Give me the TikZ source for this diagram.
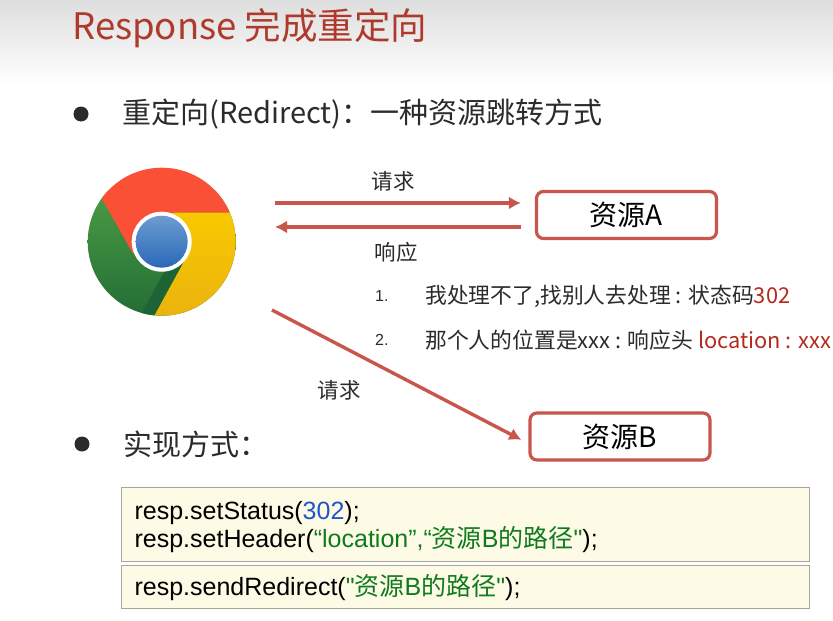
\documentclass[tikz,border=0pt]{standalone}
\usepackage{fontspec}
\setmainfont{Liberation Sans}
\newfontfamily\cjk{Noto Sans CJK SC}
\newfontfamily\codefont{Liberation Sans}
\newcommand{\cn}[1]{{\cjk #1}}
\usetikzlibrary{arrows.meta}
\definecolor{titlered}{HTML}{AE3A2C}
\definecolor{boxred}{HTML}{C9564C}
\definecolor{textred}{HTML}{B42A1C}
\definecolor{codeblue}{HTML}{1F55C8}
\definecolor{codegreen}{HTML}{0F7A1E}
\definecolor{codefill}{HTML}{FDFBE6}
\definecolor{codeedge}{HTML}{A8A698}
\definecolor{graytext}{HTML}{2B2B2B}
\definecolor{logored}{HTML}{FA5035}
\definecolor{logogreena}{HTML}{4C9C46}
\definecolor{logogreenb}{HTML}{226C34}
\definecolor{logogreenc}{HTML}{1C6436}
\definecolor{logoyellowa}{HTML}{F8C800}
\definecolor{logoyellowb}{HTML}{E8B010}
\definecolor{logobluea}{HTML}{6C9CD2}
\definecolor{logoblueb}{HTML}{2A68B8}
\begin{document}
\begin{tikzpicture}[x=1pt,y=-1pt,
  every node/.style={inner sep=0pt,text=graytext},
  res/.style={draw=boxred,line width=3.2pt,rounded corners=7pt,fill=white,minimum width=180pt,minimum height=47pt,font=\cjk\fontsize{28}{32}\selectfont,text=black},
  flow/.style={draw=boxred,line width=3.4pt,-{Latex[length=12pt,width=13pt]}},
  code/.style={draw=codeedge,line width=1.2pt,fill=codefill,anchor=north west,minimum width=688pt,text width=662pt,align=left,font=\codefont\fontsize{25}{28}\selectfont,text=black},
  label/.style={font=\cjk\fontsize{21.5}{25}\selectfont},
  big/.style={font=\cjk\fontsize{29}{34}\selectfont,anchor=west},
  small/.style={font=\cjk\fontsize{21.8}{26}\selectfont,anchor=west},
  num/.style={font=\fontsize{16}{19}\selectfont,anchor=west},
  dotitem/.style={circle,fill=graytext,minimum size=15pt}]
\useasboundingbox (0,0) rectangle (833,621);
\fill[white] (0,0) rectangle (833,621);
\shade[top color=black!13,bottom color=white] (0,0) rectangle (833,85);
\node[anchor=west,font=\cjk\fontsize{36.5}{42}\selectfont,text=titlered] (title) at (72,28) {Response 完成重定向};
% bullets
\node[dotitem] (dota) at (81,114) {};
\node[big] (redir) at (122,114) {重定向(Redirect)：一种资源跳转方式};
\node[dotitem] (dotb) at (82,444) {};
\node[big] (impl) at (123,444) {实现方式：};
% browser logo
\begin{scope}
\clip (161.7,241.7) circle (74);
\shade[top color=logogreena,bottom color=logogreenb] (85,190) rectangle (240,318);
\fill[logogreenc] (186.7,256.7) -- (154.3,315.7) -- (141.7,313.3) -- (163.3,273.3) -- cycle;
\fill[logored] (90.7,178.7) -- (132.7,253.3) -- (161.7,241.7) -- (173,212.7) -- (250,212.7) -- (250,150) -- (80,150) -- cycle;
\shade[top color=logoyellowa,bottom color=logoyellowb] (250,212.7) -- (173,212.7) -- (161.7,241.7) -- (186.7,256.7) -- (143.5,335.4) -- (250,335) -- cycle;
\end{scope}
\fill[white] (161.7,241.7) circle (30);
\shade[top color=logobluea,bottom color=logoblueb] (161.7,241.7) circle (26);
% resources
\node[res] (resa) at (626.5,215) {\cn{资源}A};
\node[res] (resb) at (620,436.5) {\cn{资源}B};
\coordinate (browa) at (275,203);
\coordinate (browb) at (275,227);
\coordinate (browc) at (272,310);
\draw[flow,shorten >=14pt] (browa) -- (resa.west |- browa);
\draw[flow,shorten <=14pt] (resa.west |- browb) -- (browb);
\draw[flow,shorten >=8pt] (browc) -- ([yshift=-7pt]resb.west);
\node[label] (req) at (393,181) {请求};
\node[label] (resp) at (396,252) {响应};
\node[label] (reqb) at (339,390) {请求};
\node[num] (numa) at (375,296) {1.};
\node[small] (stepa) at (425,296) {我处理不了,找别人去处理 : 状态码\textcolor{textred}{302}};
\node[num] (numb) at (375,340) {2.};
\node[small] (stepb) at (425,340) {那个人的位置是xxx : 响应头 \textcolor{textred}{location : xxx}};
% code
\node[code,minimum height=74pt] (codea) at (121,487) {\rule{0pt}{23pt}resp.setStatus(\textcolor{codeblue}{302});\\resp.setHeader(\textcolor{codegreen}{“location”,“\cn{资源}B\cn{的路径}"});};
\node[code,minimum height=43pt] (codeb) at (121,565) {resp.sendRedirect(\textcolor{codegreen}{"\cn{资源}B\cn{的路径}"});};
\end{tikzpicture}
\end{document}
